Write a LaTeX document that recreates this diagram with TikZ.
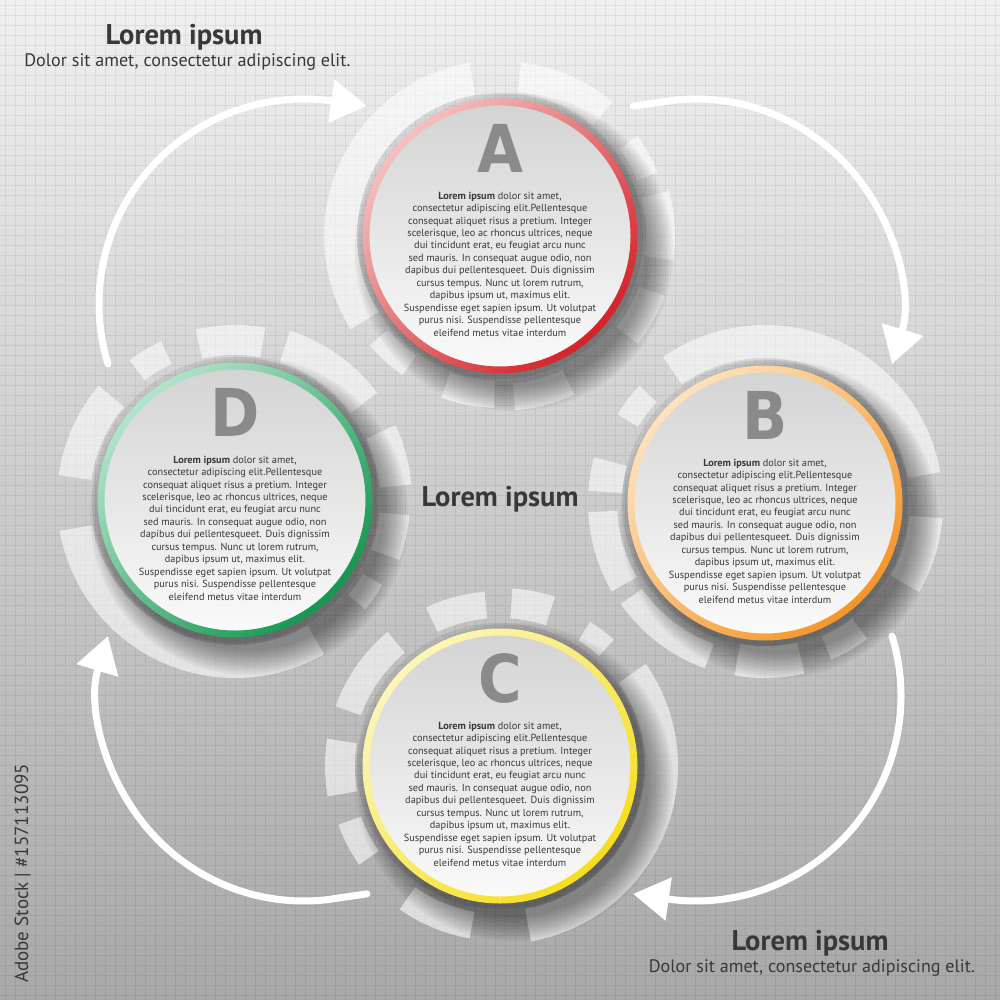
\documentclass[tikz,border=0pt]{standalone}
\usepackage{fontspec}
\setmainfont{PT Sans}
\newfontfamily\heavyfont{DejaVu Sans}
\usetikzlibrary{arrows.meta,calc}
\definecolor{bgtop}{RGB}{240,240,240}
\definecolor{bgmid}{RGB}{207,207,207}
\definecolor{bgbot}{RGB}{168,168,168}
\definecolor{txt}{RGB}{56,56,56}
\definecolor{lettercol}{RGB}{138,138,138}
\definecolor{discT}{RGB}{212,212,212}
\definecolor{discB}{RGB}{250,250,250}
\definecolor{redL}{RGB}{245,192,192}
\definecolor{redD}{RGB}{212,34,40}
\definecolor{orgL}{RGB}{253,226,190}
\definecolor{orgD}{RGB}{244,150,40}
\definecolor{yelL}{RGB}{252,246,185}
\definecolor{yelD}{RGB}{246,222,30}
\definecolor{grnL}{RGB}{178,228,204}
\definecolor{grnD}{RGB}{22,150,80}
\tikzset{
  gridline/.style={draw=black, opacity=0.065, line width=0.6pt},
  segfill/.style={fill=white, fill opacity=0.58},
  flow/.style={draw=white, line width=7pt, line cap=round},
  headtip/.tip={Triangle[length=36pt,width=42pt]},
  letterstyle/.style={font=\heavyfont\bfseries\fontsize{66}{66}\selectfont, text=lettercol, inner sep=0},
  bodystyle/.style={align=center, font=\fontsize{10.3}{12.45}\selectfont, text=txt, inner sep=0},
  headstyle/.style={font=\bfseries\fontsize{28.5}{32}\selectfont, text=txt, inner sep=0, anchor=base},
  substyle/.style={font=\fontsize{18.1}{22}\selectfont, text=txt, inner sep=0, anchor=base},
  markstyle/.style={font=\fontsize{19}{22}\selectfont, text=txt, inner sep=0},
}
\newcommand\gseg[4]{\fill[segfill] (#1:#3) arc[start angle=#1, end angle=#2, radius=#3] -- (#2:#4) arc[start angle=#2, end angle=#1, radius=#4] -- cycle;}
\newcommand\bodytext{{\bfseries Lorem ipsum} dolor sit amet,\\consectetur adipiscing elit.Pellentesque\\consequat aliquet risus a pretium. Integer\\scelerisque, leo ac rhoncus ultrices, neque\\dui tincidunt erat, eu feugiat arcu nunc\\sed mauris. In consequat augue odio, non\\dapibus dui pellentesqueet. Duis dignissim\\cursus tempus. Nunc ut lorem rutrum,\\dapibus ipsum ut, maximus elit.\\Suspendisse eget sapien ipsum. Ut volutpat\\purus nisi. Suspendisse pellentesque\\eleifend metus vitae interdum}
\newcommand\badge[6]{%
  \begin{scope}[shift={(#2,#3)}]
    \coordinate (#1) at (0,0);
    \foreach \k in {0,...,10} {\fill[black, opacity=0.045] (14,16) circle ({135+2.4*\k});}
    \fill[black, opacity=0.07] (0,0) circle (143);
    \shade[top color=discT, bottom color=discB] (0,0) circle (131);
    \shade[even odd rule, top color=#4, bottom color=#5, shading angle=45] (0,0) circle (137.5) (0,0) circle (130.5);
    \node[letterstyle] (#1-letter) at (0,-88) {\scalebox{0.9}[1]{#6}};
    \node[bodystyle] (#1-text) at (0,28) {\bodytext};
  \end{scope}}
\newcommand\flowarc[3]{% #1 prefix, #2 arrow spec, #3 scope transform
  \begin{scope}[shift={(500,500)}, #3]
    \coordinate (#1c) at (-196,-196);
    \coordinate (#1s) at ($(#1c)+(163:205)$);
    \draw[flow, #2] (#1s) arc[start angle=163, end angle=276, radius=205] -- ++(41.5,6) coordinate (#1e);
  \end{scope}}
\begin{document}
\begin{tikzpicture}[x=1pt,y=-1pt]
\useasboundingbox (0,0) rectangle (1000,1000);
\shade[top color=bgtop, middle color=bgmid, bottom color=bgbot] (0,0) rectangle (1000,1000);
\draw[gridline] \foreach \i in {5,15,...,995} {(\i,0) -- (\i,1000) (0,\i) -- (1000,\i)};
% gear segments
\begin{scope}[shift={(500,236)}]
  \gseg{-212}{-100}{143}{176}\gseg{-83}{-50}{145}{175}\gseg{-36}{-22}{148}{170}\gseg{-15}{8}{146}{175}
  \gseg{20}{38}{148}{175}\gseg{65}{85}{148}{175}\gseg{92}{110}{145}{172}\gseg{125}{140}{146}{170}
\end{scope}
\begin{scope}[shift={(765,503)}]
  \gseg{-125}{-10}{145}{178}\gseg{-149}{-137}{148}{172}\gseg{-176}{-165}{143}{177}\gseg{-210}{-183}{148}{177}
  \gseg{-250}{-215}{150}{176}\gseg{-283}{-260}{143}{175}\gseg{-307}{-293}{145}{170}\gseg{-355}{-330}{145}{178}
\end{scope}
\begin{scope}[shift={(500,766)}]
  \gseg{-115}{-95}{148}{175}\gseg{-86}{-72}{148}{178}\gseg{-58}{-48}{148}{170}\gseg{-35}{80}{145}{178}
  \gseg{-260}{-235}{148}{175}\gseg{-215}{-200}{148}{172}\gseg{-190}{-171}{145}{175}\gseg{-160}{-130}{148}{175}
\end{scope}
\begin{scope}[shift={(235,500)}]
  \gseg{-127}{-115}{150}{175}\gseg{-103}{-80}{145}{175}\gseg{-72}{-37}{145}{178}\gseg{-25}{-5}{145}{177}
  \gseg{5}{20}{145}{175}\gseg{30}{40}{148}{170}\gseg{-300}{-190}{145}{178}\gseg{-172}{-140}{145}{178}
\end{scope}
% flow arrows
\flowarc{tl}{-headtip}{}
\flowarc{tr}{headtip-}{xscale=-1}
\flowarc{br}{-headtip}{xscale=-1, yscale=-1}
\flowarc{bl}{headtip-}{yscale=-1}
% badges
\badge{A}{500}{236}{redL}{redD}{A}
\badge{B}{765}{503}{orgL}{orgD}{B}
\badge{C}{500}{766}{yelL}{yelD}{C}
\badge{D}{235}{500}{grnL}{grnD}{D}
% headings
\node[headstyle] (h1) at (184,45) {Lorem ipsum};
\node[substyle] (s1) at (187.5,67) {Dolor sit amet, consectetur adipiscing elit.};
\node[headstyle] (h2) at (500,506) {Lorem ipsum};
\node[headstyle] (h3) at (810,950) {Lorem ipsum};
\node[substyle] (s3) at (812,972) {Dolor sit amet, consectetur adipiscing elit.};
\node[markstyle, rotate=90, anchor=base west] (wm) at (28,983) {Adobe Stock | \#157113095};
\end{tikzpicture}
\end{document}
